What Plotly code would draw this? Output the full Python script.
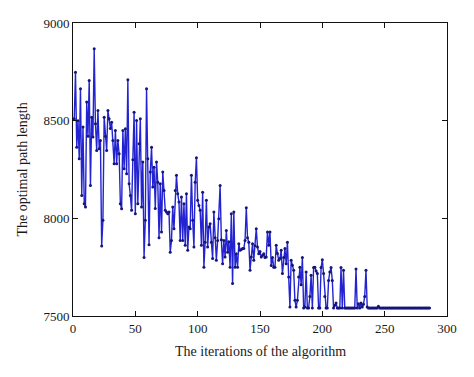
import plotly.graph_objects as go

floor = 7541
lengths = [
    8510, 8748, 8364, 8500, 8305, 8663, 8117, 8467, 8075, 8058,
    8595, 8420, 8706, 8168, 8518, 8416, 8868, 8484, 8347, 8552,
    8356, 8399, 7858, 7990, 8518, 8420, 8347, 8552, 8510, 8460,
    8492, 8399, 8280, 8450, 8280, 8399, 8331, 8075, 8049, 8450,
    8254, 8459, 8228, 8709, 8177, 8117, 8041, 8300, 8543, 8024,
    8501, 8075, 8382, 8510, 8058, 8288, 7799, 7990, 8663, 8305,
    7865, 8237, 8364, 8160, 8262, 8050, 8288, 8185, 7900, 8177,
    7930, 8237, 8143, 8041, 8032, 8024, 8032, 7827, 7887, 8058,
    7947, 8143, 8220, 8126, 8083, 7887, 8109, 7887, 8075, 7862,
    8126, 7836, 7955, 7947, 8220, 7990, 7853, 8185, 8310, 8092,
    8066, 8041, 7862, 8134, 7750, 7878, 8092, 7853, 7955, 7972,
    7878, 7794, 8032, 7900, 7785, 7887, 7998, 8168, 7890, 7768,
    7887, 7802, 7938, 7827, 7880, 7750, 8024, 7666, 8032, 7750,
    7819, 7750, 7870, 7836, 7840, 7845, 7845, 7887, 8054, 7900,
    7878, 7734, 7802, 7870, 7785, 7860, 7947, 7853, 7819, 7830,
    7802, 7810, 7819, 7800, 7802, 7930, 7862, 7930, 7759, 7800,
    7750, 7750, 7862, 7820, 7785, 7794, 7836, 7717, 7800, 7845,
    7768, 7878, 7700, 7546, 7785, 7760, 7734, 7580, 7546, 7580,
    7700, 7750, 7660, 7800, 7541, 7546, 7725, 7541, 7541, 7600,
    7708, 7541, 7748, 7750, 7730, 7717, 7541, 7541, 7748, 7788,
    7717, 7600, 7541, 7541, 7682, 7725, 7748, 7682, 7541, 7555,
    7566, 7541, 7541, 7541, 7748, 7541, 7734, 7541, 7541, 7541,
    7541, 7541, 7541, 7541, 7541, 7541, 7740, 7541, 7563, 7541,
    7566, 7546, 7560, 7600, 7734, 7546, 7541, 7541, 7541, 7541,
    7541, 7541, 7541, 7541, 7550, 7541, 7541, 7541, 7541, 7541,
]
lengths += [floor] * (286 - len(lengths))
iterations = list(range(1, len(lengths) + 1))

x_ticks = [0, 50, 100, 150, 200, 250, 300]
y_ticks = [7500, 8000, 8500, 9000]

font_family = "Liberation Serif, Times New Roman, serif"

fig = go.Figure()
fig.add_trace(go.Scatter(
    x=iterations, y=lengths, mode="lines+markers",
    line=dict(color="#2323d2", width=1.4),
    marker=dict(color="#15157a", size=3),
    showlegend=False,
))

axis_common = dict(
    showline=True, linecolor="#111", linewidth=1, mirror="ticks",
    ticks="inside", ticklen=5, tickcolor="#111", showgrid=False,
    zeroline=False, tickfont=dict(family=font_family, size=13, color="#1a1a1a"),
)
fig.update_xaxes(range=[0, 300], tickvals=x_ticks, **axis_common)
fig.update_yaxes(range=[7500, 9000], tickvals=y_ticks, **axis_common)

fig.update_layout(
    width=474, height=377,
    margin=dict(l=73, r=27, t=23, b=61),
    paper_bgcolor="white", plot_bgcolor="white",
    font=dict(family=font_family, color="#1a1a1a"),
    annotations=[
        dict(text="The iterations of the algorithm", xref="paper", yref="paper",
             x=0.5, y=0, xanchor="center", yanchor="top", yshift=-26,
             showarrow=False, font=dict(family=font_family, size=14, color="#1a1a1a")),
        dict(text="The optimal path length", xref="paper", yref="paper",
             x=0, y=0.5, xanchor="center", yanchor="middle", xshift=-51,
             textangle=-90, showarrow=False,
             font=dict(family=font_family, size=14, color="#1a1a1a")),
    ],
)

fig.write_html("out.html")
